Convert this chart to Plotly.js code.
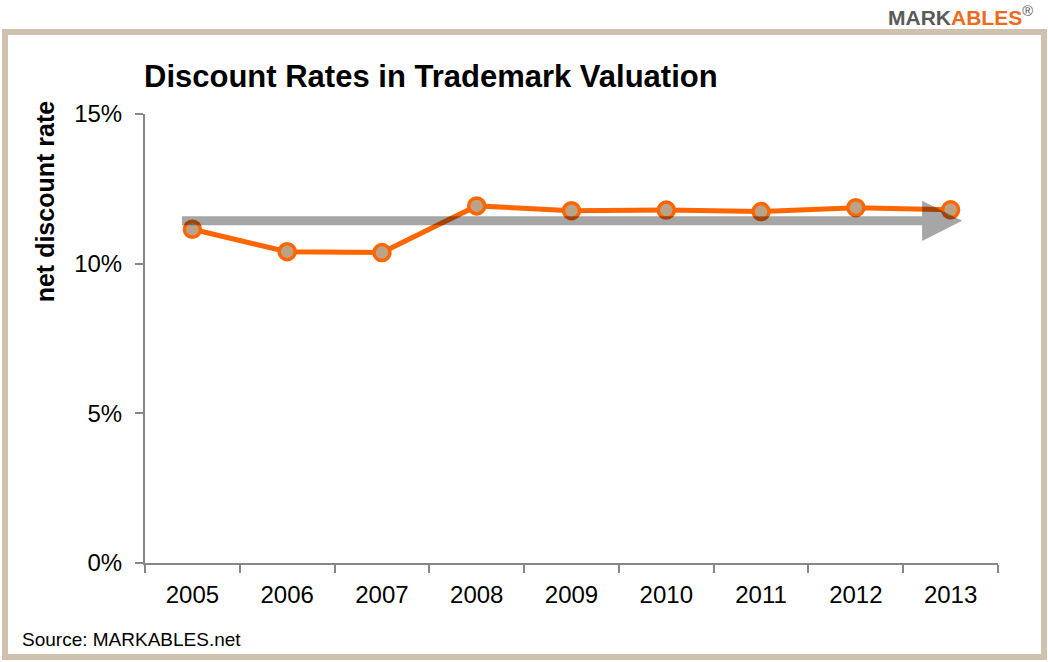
<!DOCTYPE html>
<html>
<head>
<meta charset="utf-8">
<script src="https://cdn.plot.ly/plotly-3.0.1.min.js"></script>
<style>
  html, body { margin:0; padding:0; background:#fff; }
  #wrap { position:relative; width:1048px; height:662px; overflow:hidden; }
  #frame { position:absolute; left:2px; top:29px; width:1045px; height:631px; box-sizing:border-box; border:6px solid #CFC1AE; pointer-events:none; }
  #chart { position:absolute; left:0; top:0; width:1048px; height:662px; }
</style>
</head>
<body>
<div id="wrap">
  <div id="frame"></div>
  <div id="chart"></div>
</div>
<script>
// ---- data ----
const years = ['2005','2006','2007','2008','2009','2010','2011','2012','2013'];
const netDiscountRate = [11.15, 10.4, 10.37, 11.93, 11.77, 11.79, 11.74, 11.87, 11.8];
const yTickVals = [0, 5, 10, 15];
const yTickText = ['0%', '5%', '10%', '15%'];
const trendLevel = 11.43;   // level of the grey trend arrow (%)

const FONT = 'Liberation Sans, Arial, sans-serif';

// arrow geometry (paper x, data y)
const arrowX0 = 0.0434, arrowXHead = 0.911, arrowXTip = 0.958;
const shaftHalf = 0.15, headHalf = 0.67;
const arrowPath = 'M ' + arrowX0 + ' ' + (trendLevel + shaftHalf) +
  ' L ' + arrowXHead + ' ' + (trendLevel + shaftHalf) +
  ' L ' + arrowXHead + ' ' + (trendLevel + headHalf) +
  ' L ' + arrowXTip + ' ' + trendLevel +
  ' L ' + arrowXHead + ' ' + (trendLevel - headHalf) +
  ' L ' + arrowXHead + ' ' + (trendLevel - shaftHalf) +
  ' L ' + arrowX0 + ' ' + (trendLevel - shaftHalf) + ' Z';

const trace = {
  type: 'scatter',
  mode: 'lines+markers',
  x: years,
  y: netDiscountRate,
  line: { color: '#FF6600', width: 5 },
  marker: { size: 16, color: '#BCA286', line: { color: '#FF6600', width: 3.5 } },
  hoverinfo: 'skip',
  showlegend: false
};

const layout = {
  width: 1048, height: 662,
  margin: { l: 145, r: 50, t: 114, b: 99 },
  paper_bgcolor: 'rgba(0,0,0,0)',
  plot_bgcolor: 'rgba(0,0,0,0)',
  font: { family: FONT, color: '#000' },
  xaxis: {
    type: 'category',
    range: [-0.5, 8.5],
    tickson: 'boundaries',
    ticks: 'outside', ticklen: 8, tickwidth: 2, tickcolor: '#878787',
    showline: true, linecolor: '#878787', linewidth: 2,
    showgrid: false, zeroline: false,
    tickfont: { family: FONT, size: 24, color: '#000' },
    ticklabelstandoff: 9,
    fixedrange: true
  },
  yaxis: {
    range: [0, 15],
    tickvals: yTickVals, ticktext: yTickText,
    ticks: 'outside', ticklen: 8, tickwidth: 2, tickcolor: '#878787',
    showline: true, linecolor: '#878787', linewidth: 2,
    showgrid: false, zeroline: false,
    tickfont: { family: FONT, size: 24, color: '#000' },
    ticklabelstandoff: 8,
    fixedrange: true
  },
  shapes: [{
    type: 'path', xref: 'paper', yref: 'y', layer: 'above',
    path: arrowPath,
    fillcolor: 'rgba(0,0,0,0.35)', line: { width: 0 }
  }],
  annotations: [
    { text: '<b>Discount Rates in Trademark Valuation</b>',
      xref: 'paper', yref: 'paper', x: -0.004, y: (563 - 77) / 449,
      xanchor: 'left', yanchor: 'middle', showarrow: false,
      font: { family: FONT, size: 31, color: '#000' } },
    { text: '<b>net discount rate</b>', textangle: -90,
      xref: 'paper', yref: 'paper', x: -0.117, y: 0.806,
      xanchor: 'center', yanchor: 'middle', showarrow: false,
      font: { family: FONT, size: 25, color: '#000' } },
    { text: 'Source: MARKABLES.net',
      xref: 'paper', yref: 'paper', x: -0.146, y: -0.171,
      xanchor: 'left', yanchor: 'middle', showarrow: false,
      font: { family: FONT, size: 19, color: '#000' } },
    { text: '<b><span style="color:#5A5A5A">MARK</span><span style="color:#EE6A1C">ABLES</span></b><sup>®</sup>',
      xref: 'paper', yref: 'paper', x: 1.043, y: 1.218,
      xanchor: 'right', yanchor: 'middle', showarrow: false,
      font: { family: FONT, size: 21, color: '#5A5A5A' } }
  ]
};

Plotly.newPlot('chart', [trace], layout, { displayModeBar: false, staticPlot: true });
</script>
</body>
</html>
